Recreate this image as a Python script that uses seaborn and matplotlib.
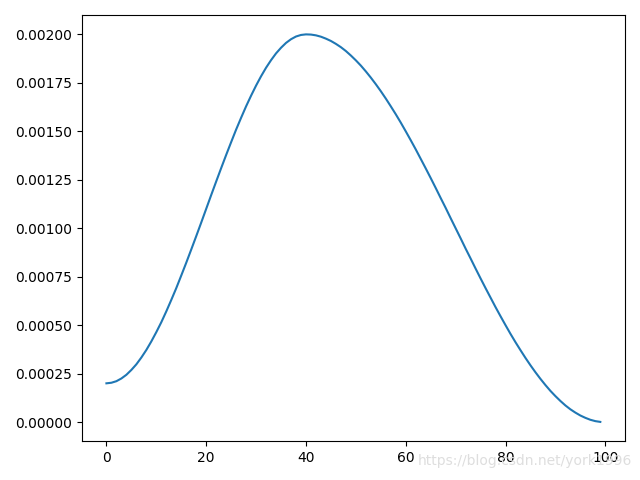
import matplotlib
matplotlib.use("Agg")
import matplotlib.pyplot as plt
import seaborn as sns
import pandas as pd

epochs = list(range(100))
warmup_lr = [
    0.000200, 0.000203, 0.000211, 0.000225, 0.000244, 0.000269, 0.000298, 0.000333,
    0.000372, 0.000416, 0.000464, 0.000515, 0.000571, 0.000630, 0.000691, 0.000756,
    0.000822, 0.000890, 0.000959, 0.001029, 0.001100, 0.001171, 0.001241, 0.001310,
    0.001378, 0.001444, 0.001509, 0.001570, 0.001629, 0.001684, 0.001736, 0.001784,
    0.001828, 0.001867, 0.001902, 0.001931, 0.001956, 0.001975, 0.001989, 0.001997,
]
decay_lr = [
    0.002000, 0.001999, 0.001995, 0.001988, 0.001978, 0.001966, 0.001951, 0.001934,
    0.001914, 0.001891, 0.001866, 0.001839, 0.001809, 0.001777, 0.001743, 0.001707,
    0.001669, 0.001629, 0.001588, 0.001545, 0.001500, 0.001454, 0.001407, 0.001358,
    0.001309, 0.001259, 0.001208, 0.001156, 0.001105, 0.001052, 0.001000, 0.000948,
    0.000895, 0.000844, 0.000792, 0.000741, 0.000691, 0.000642, 0.000593, 0.000546,
    0.000500, 0.000455, 0.000412, 0.000371, 0.000331, 0.000293, 0.000257, 0.000223,
    0.000191, 0.000161, 0.000134, 0.000109, 0.000086, 0.000066, 0.000049, 0.000034,
    0.000022, 0.000012, 0.000005, 0.000001,
]
lr = warmup_lr + decay_lr

df = pd.DataFrame({"epoch": epochs, "lr": lr})

fig, ax = plt.subplots(figsize=(6.4, 4.8), dpi=100)
sns.lineplot(data=df, x="epoch", y="lr", ax=ax, color="#1f77b4", linewidth=1.5)
ax.set_xlabel("")
ax.set_ylabel("")
ax.set_xticks([0, 20, 40, 60, 80, 100])
ax.set_yticks([0.0, 0.00025, 0.0005, 0.00075, 0.001, 0.00125, 0.0015, 0.00175, 0.002])
ax.set_yticklabels(["0.00000", "0.00025", "0.00050", "0.00075", "0.00100",
                    "0.00125", "0.00150", "0.00175", "0.00200"])
fig.tight_layout()
fig.text(0.988, 0.039, "https://blog.csdn.net/york1996", ha="right", va="center",
         fontsize=10, color="#dedede", zorder=0)
fig.savefig("out.png", dpi=100)
